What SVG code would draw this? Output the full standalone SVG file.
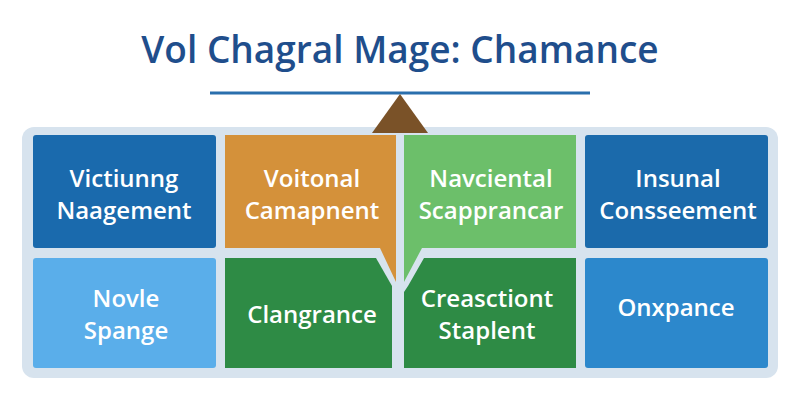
<svg xmlns="http://www.w3.org/2000/svg" width="800" height="400" viewBox="0 0 800 400">
<style>
text{font-family:"Open Sans","Noto Sans",sans-serif;font-weight:600;fill:#fff;font-size:24px;text-anchor:middle}
.t{fill:#1f4e8c;font-size:37px}
</style>
<rect width="800" height="400" fill="#fff"/>
<text class="t" x="400" y="63">Vol Chagral Mage: Chamance</text>
<rect x="22" y="127" width="756" height="251" rx="12" fill="#d7e3ee"/>
<g id="connectors">
<line x1="210" y1="93" x2="590" y2="93" stroke="#2a6fad" stroke-width="3"/>
<polygon points="400,94 372,133 428,133" fill="#7a5228"/>
</g>
<g id="n1"><rect x="33" y="135" width="183" height="113" rx="3" fill="#1a6aad"/><text x="124" y="187">Victiunng</text><text x="124" y="219">Naagement</text></g>
<g id="n2"><path d="M225,135H396V282L380,248H225Z" fill="#d4913a"/><text x="312" y="187">Voitonal</text><text x="312" y="219">Camapnent</text></g>
<g id="n3"><path d="M404,135H576V248H422L404,282Z" fill="#6cbf6a"/><text x="491" y="187">Navciental</text><text x="491" y="219">Scapprancar</text></g>
<g id="n4"><rect x="585" y="135" width="183" height="113" rx="3" fill="#1b6aab"/><text x="678" y="187">Insunal</text><text x="678" y="219">Consseement</text></g>
<g id="n5"><rect x="33" y="258" width="183" height="110" rx="3" fill="#5aaeea"/><text x="126" y="307">Novle</text><text x="126" y="339">Spange</text></g>
<g id="n6"><path d="M225,258H376L392,286V368H225Z" fill="#2e8b45"/><text x="312" y="323">Clangrance</text></g>
<g id="n7"><path d="M408,286L424,258H576V368H404V292Z" fill="#2e8b45"/><text x="487" y="307">Creasctiont</text><text x="487" y="339">Staplent</text></g>
<g id="n8"><rect x="585" y="258" width="183" height="110" rx="3" fill="#2c88cc"/><text x="676" y="316">Onxpance</text></g>
</svg>
